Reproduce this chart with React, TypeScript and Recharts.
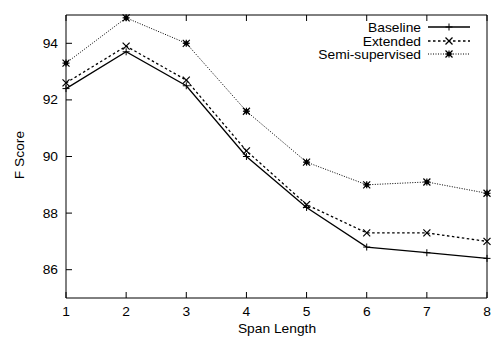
import React from "react";
import { LineChart, Line, XAxis, YAxis } from "recharts";

const spanLengths = [1, 2, 3, 4, 5, 6, 7, 8];
const baseline = [92.4, 93.7, 92.5, 90.0, 88.2, 86.8, 86.6, 86.4];
const extended = [92.6, 93.9, 92.7, 90.2, 88.3, 87.3, 87.3, 87.0];
const semiSupervised = [93.3, 94.9, 94.0, 91.6, 89.8, 89.0, 89.1, 88.7];
const yTicks = [86, 88, 90, 92, 94];
const seriesNames = ["Baseline", "Extended", "Semi-supervised"];

const data = spanLengths.map((s, i) => ({
  span: s,
  baseline: baseline[i],
  extended: extended[i],
  semi: semiSupervised[i],
}));

const FONT = "'Liberation Sans', Arial, sans-serif";

const Txt = ({ x, y, anchor = "middle", rotate = 0, children }: any) => (
  <text
    transform={`translate(${x} ${y}) rotate(${rotate}) scale(1.15 1)`}
    textAnchor={anchor}
    fontSize={12}
    fontFamily={FONT}
    fill="#000"
  >
    {children}
  </text>
);

const PlusDot = (p: any) => {
  const { cx, cy } = p;
  if (cx == null || cy == null) return null;
  return (
    <g stroke="#000" strokeWidth={1}>
      <line x1={cx - 3.5} y1={cy} x2={cx + 3.5} y2={cy} />
      <line x1={cx} y1={cy - 3.5} x2={cx} y2={cy + 3.5} />
    </g>
  );
};
const CrossDot = (p: any) => {
  const { cx, cy } = p;
  if (cx == null || cy == null) return null;
  return (
    <g stroke="#000" strokeWidth={1.2}>
      <line x1={cx - 3.5} y1={cy - 3.5} x2={cx + 3.5} y2={cy + 3.5} />
      <line x1={cx - 3.5} y1={cy + 3.5} x2={cx + 3.5} y2={cy - 3.5} />
    </g>
  );
};
const StarDot = (p: any) => {
  const { cx, cy } = p;
  if (cx == null || cy == null) return null;
  return (
    <g stroke="#000" strokeWidth={1.2}>
      <rect x={cx - 2} y={cy - 2} width={4} height={4} fill="#000" stroke="none" />
      <line x1={cx - 3.5} y1={cy - 3.5} x2={cx + 3.5} y2={cy + 3.5} />
      <line x1={cx - 3.5} y1={cy + 3.5} x2={cx + 3.5} y2={cy - 3.5} />
      <line x1={cx - 3.5} y1={cy} x2={cx + 3.5} y2={cy} />
      <line x1={cx} y1={cy - 3.5} x2={cx} y2={cy + 3.5} />
    </g>
  );
};

const BottomTick = (p: any) => {
  const { x, y, payload } = p;
  return (
    <g>
      <line x1={x} y1={y} x2={x} y2={y - 6} stroke="#000" />
      <Txt x={x} y={y + 18}>{payload.value}</Txt>
    </g>
  );
};
const TopTick = (p: any) => {
  const { x, y } = p;
  return <line x1={x} y1={y} x2={x} y2={y + 6} stroke="#000" />;
};
const LeftTick = (p: any) => {
  const { x, y, payload } = p;
  return (
    <g>
      <line x1={x} y1={y} x2={x + 6} y2={y} stroke="#000" />
      <Txt x={x - 8} y={y + 4.5} anchor="end">{payload.value}</Txt>
    </g>
  );
};
const RightTick = (p: any) => {
  const { x, y } = p;
  return <line x1={x} y1={y} x2={x - 6} y2={y} stroke="#000" />;
};

const legendStyles = [
  { dash: undefined, width: 1.3, Dot: PlusDot, y: 27 },
  { dash: "2.5 2.5", width: 1.3, Dot: CrossDot, y: 41 },
  { dash: "1 1.5", width: 1, Dot: StarDot, y: 54 },
];

export default function App() {
  return (
    <div style={{ position: "absolute", left: 0, top: 0, width: 491, height: 338, background: "#fff" }}>
      <LineChart width={491} height={338} data={data} margin={{ top: 14, right: 3, bottom: 39, left: 65 }}>
        <XAxis
          xAxisId="bottom"
          dataKey="span"
          type="number"
          domain={[1, 8]}
          ticks={spanLengths}
          tickSize={0}
          tickMargin={0}
          tick={<BottomTick />}
          axisLine={{ stroke: "#000" }}
          height={1}
          interval={0}
        />
        <XAxis
          xAxisId="top"
          orientation="top"
          dataKey="span"
          type="number"
          domain={[1, 8]}
          ticks={spanLengths}
          tickSize={0}
          tickMargin={0}
          tick={<TopTick />}
          axisLine={{ stroke: "#000" }}
          height={1}
          interval={0}
        />
        <YAxis
          yAxisId="left"
          type="number"
          domain={[85, 95]}
          ticks={yTicks}
          tickSize={0}
          tickMargin={0}
          tick={<LeftTick />}
          axisLine={{ stroke: "#000" }}
          width={1}
          interval={0}
        />
        <YAxis
          yAxisId="right"
          orientation="right"
          type="number"
          domain={[85, 95]}
          ticks={yTicks}
          tickSize={0}
          tickMargin={0}
          tick={<RightTick />}
          axisLine={{ stroke: "#000" }}
          width={1}
          interval={0}
        />
        <Line
          xAxisId="bottom"
          yAxisId="left"
          dataKey="baseline"
          stroke="#000"
          strokeWidth={1.3}
          dot={<PlusDot />}
          isAnimationActive={false}
        />
        <Line
          xAxisId="bottom"
          yAxisId="left"
          dataKey="extended"
          stroke="#000"
          strokeWidth={1.3}
          strokeDasharray="2.5 2.5"
          dot={<CrossDot />}
          isAnimationActive={false}
        />
        <Line
          xAxisId="bottom"
          yAxisId="left"
          dataKey="semi"
          stroke="#000"
          strokeWidth={1}
          strokeDasharray="1 1.5"
          dot={<StarDot />}
          isAnimationActive={false}
        />
        <g>
          {seriesNames.map((n, i) => {
            const s = legendStyles[i];
            const y = s.y;
            const D = s.Dot;
            return (
              <g key={n}>
                <Txt x={421} y={y + 4.5} anchor="end">{n}</Txt>
                <line x1={428} y1={y} x2={470} y2={y} stroke="#000" strokeWidth={s.width} strokeDasharray={s.dash} />
                <D cx={449} cy={y} />
              </g>
            );
          })}
        </g>
        <Txt x={277} y={333}>Span Length</Txt>
        <Txt x={24} y={155} rotate={-90}>F Score</Txt>
      </LineChart>
    </div>
  );
}
